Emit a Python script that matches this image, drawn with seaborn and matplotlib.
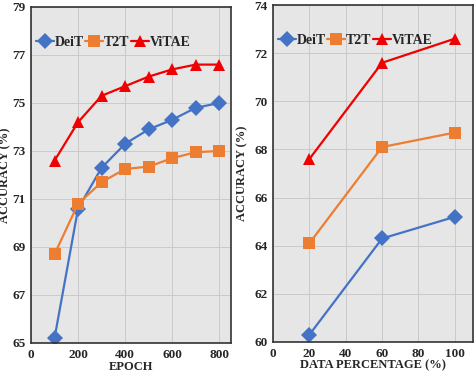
import matplotlib
matplotlib.use("Agg")
import matplotlib.pyplot as plt
import seaborn as sns
import pandas as pd

# ---- data ----
series = ["DeiT", "T2T", "ViTAE"]
epochs = [100, 200, 300, 400, 500, 600, 700, 800]
deit_epoch = [65.2, 70.6, 72.3, 73.3, 73.9, 74.3, 74.8, 75.0]
t2t_epoch = [68.7, 70.8, 71.7, 72.25, 72.35, 72.7, 72.95, 73.0]
vitae_epoch = [72.6, 74.2, 75.3, 75.7, 76.1, 76.4, 76.6, 76.6]

data_pct = [20, 60, 100]
deit_pct = [60.3, 64.3, 65.2]
t2t_pct = [64.1, 68.1, 68.7]
vitae_pct = [67.6, 71.6, 72.6]

left_yticks = [65, 67, 69, 71, 73, 75, 77, 79]
left_xticks = [0, 200, 400, 600, 800]
right_yticks = [60, 62, 64, 66, 68, 70, 72, 74]
right_xticks = [0, 20, 40, 60, 80, 100]

palette = {"DeiT": "#4472C4", "T2T": "#ED7D31", "ViTAE": "#F00000"}
markers = {"DeiT": "D", "T2T": "s", "ViTAE": "^"}

df_epoch = pd.DataFrame({
    "x": epochs * 3,
    "y": deit_epoch + t2t_epoch + vitae_epoch,
    "model": sum([[s] * len(epochs) for s in series], []),
})
df_pct = pd.DataFrame({
    "x": data_pct * 3,
    "y": deit_pct + t2t_pct + vitae_pct,
    "model": sum([[s] * len(data_pct) for s in series], []),
})

sns.set_theme(style="darkgrid")
plt.rcParams["font.family"] = ["Liberation Serif", "DejaVu Serif"]
plt.rcParams["font.weight"] = "bold"

fig = plt.figure(figsize=(4.74, 3.72), dpi=100)
ax1 = fig.add_axes([31 / 474, 1 - 343 / 372, 200 / 474, 336 / 372])
ax2 = fig.add_axes([273 / 474, 1 - 342 / 372, 200 / 474, 337 / 372])


def draw(ax, df, xlim, ylim, xticks, yticks, xlabel, ylabelpad):
    sns.lineplot(data=df, x="x", y="y", hue="model", style="model",
                 palette=palette, markers=markers, dashes=False,
                 linewidth=1.6, markersize=8.5, markeredgewidth=0,
                 ax=ax, legend=True)
    ax.set_facecolor("#E6E6E6")
    ax.grid(True, color="#CACACA", linewidth=0.7)
    ax.set_xlim(*xlim)
    ax.set_ylim(*ylim)
    ax.set_xticks(xticks)
    ax.set_yticks(yticks)
    ax.tick_params(axis="x", length=0, labelsize=9.5, pad=4)
    ax.tick_params(axis="y", length=0, labelsize=9.5, pad=4)
    for lab in ax.get_xticklabels() + ax.get_yticklabels():
        lab.set_fontweight("bold")
    ax.set_xlabel(xlabel, fontsize=9, fontweight="bold", labelpad=0)
    ax.set_ylabel("ACCURACY (%)", fontsize=9, fontweight="bold", labelpad=ylabelpad)
    for sp in ax.spines.values():
        sp.set_visible(True)
        sp.set_color("#333333")
        sp.set_linewidth(1.2)
    ax.legend(loc="center", bbox_to_anchor=(0.41, 0.895), ncol=3, frameon=False,
              handlelength=1.3, handletextpad=0.05, columnspacing=0.1,
              prop={"family": "Liberation Serif", "weight": "bold", "size": 10})


draw(ax1, df_epoch, (0, 850), (65, 79), left_xticks, left_yticks, "EPOCH", 1)
draw(ax2, df_pct, (0, 110), (60, 74), right_xticks, right_yticks, "DATA PERCENTAGE (%)", 4)

fig.savefig("out.png", dpi=100)
